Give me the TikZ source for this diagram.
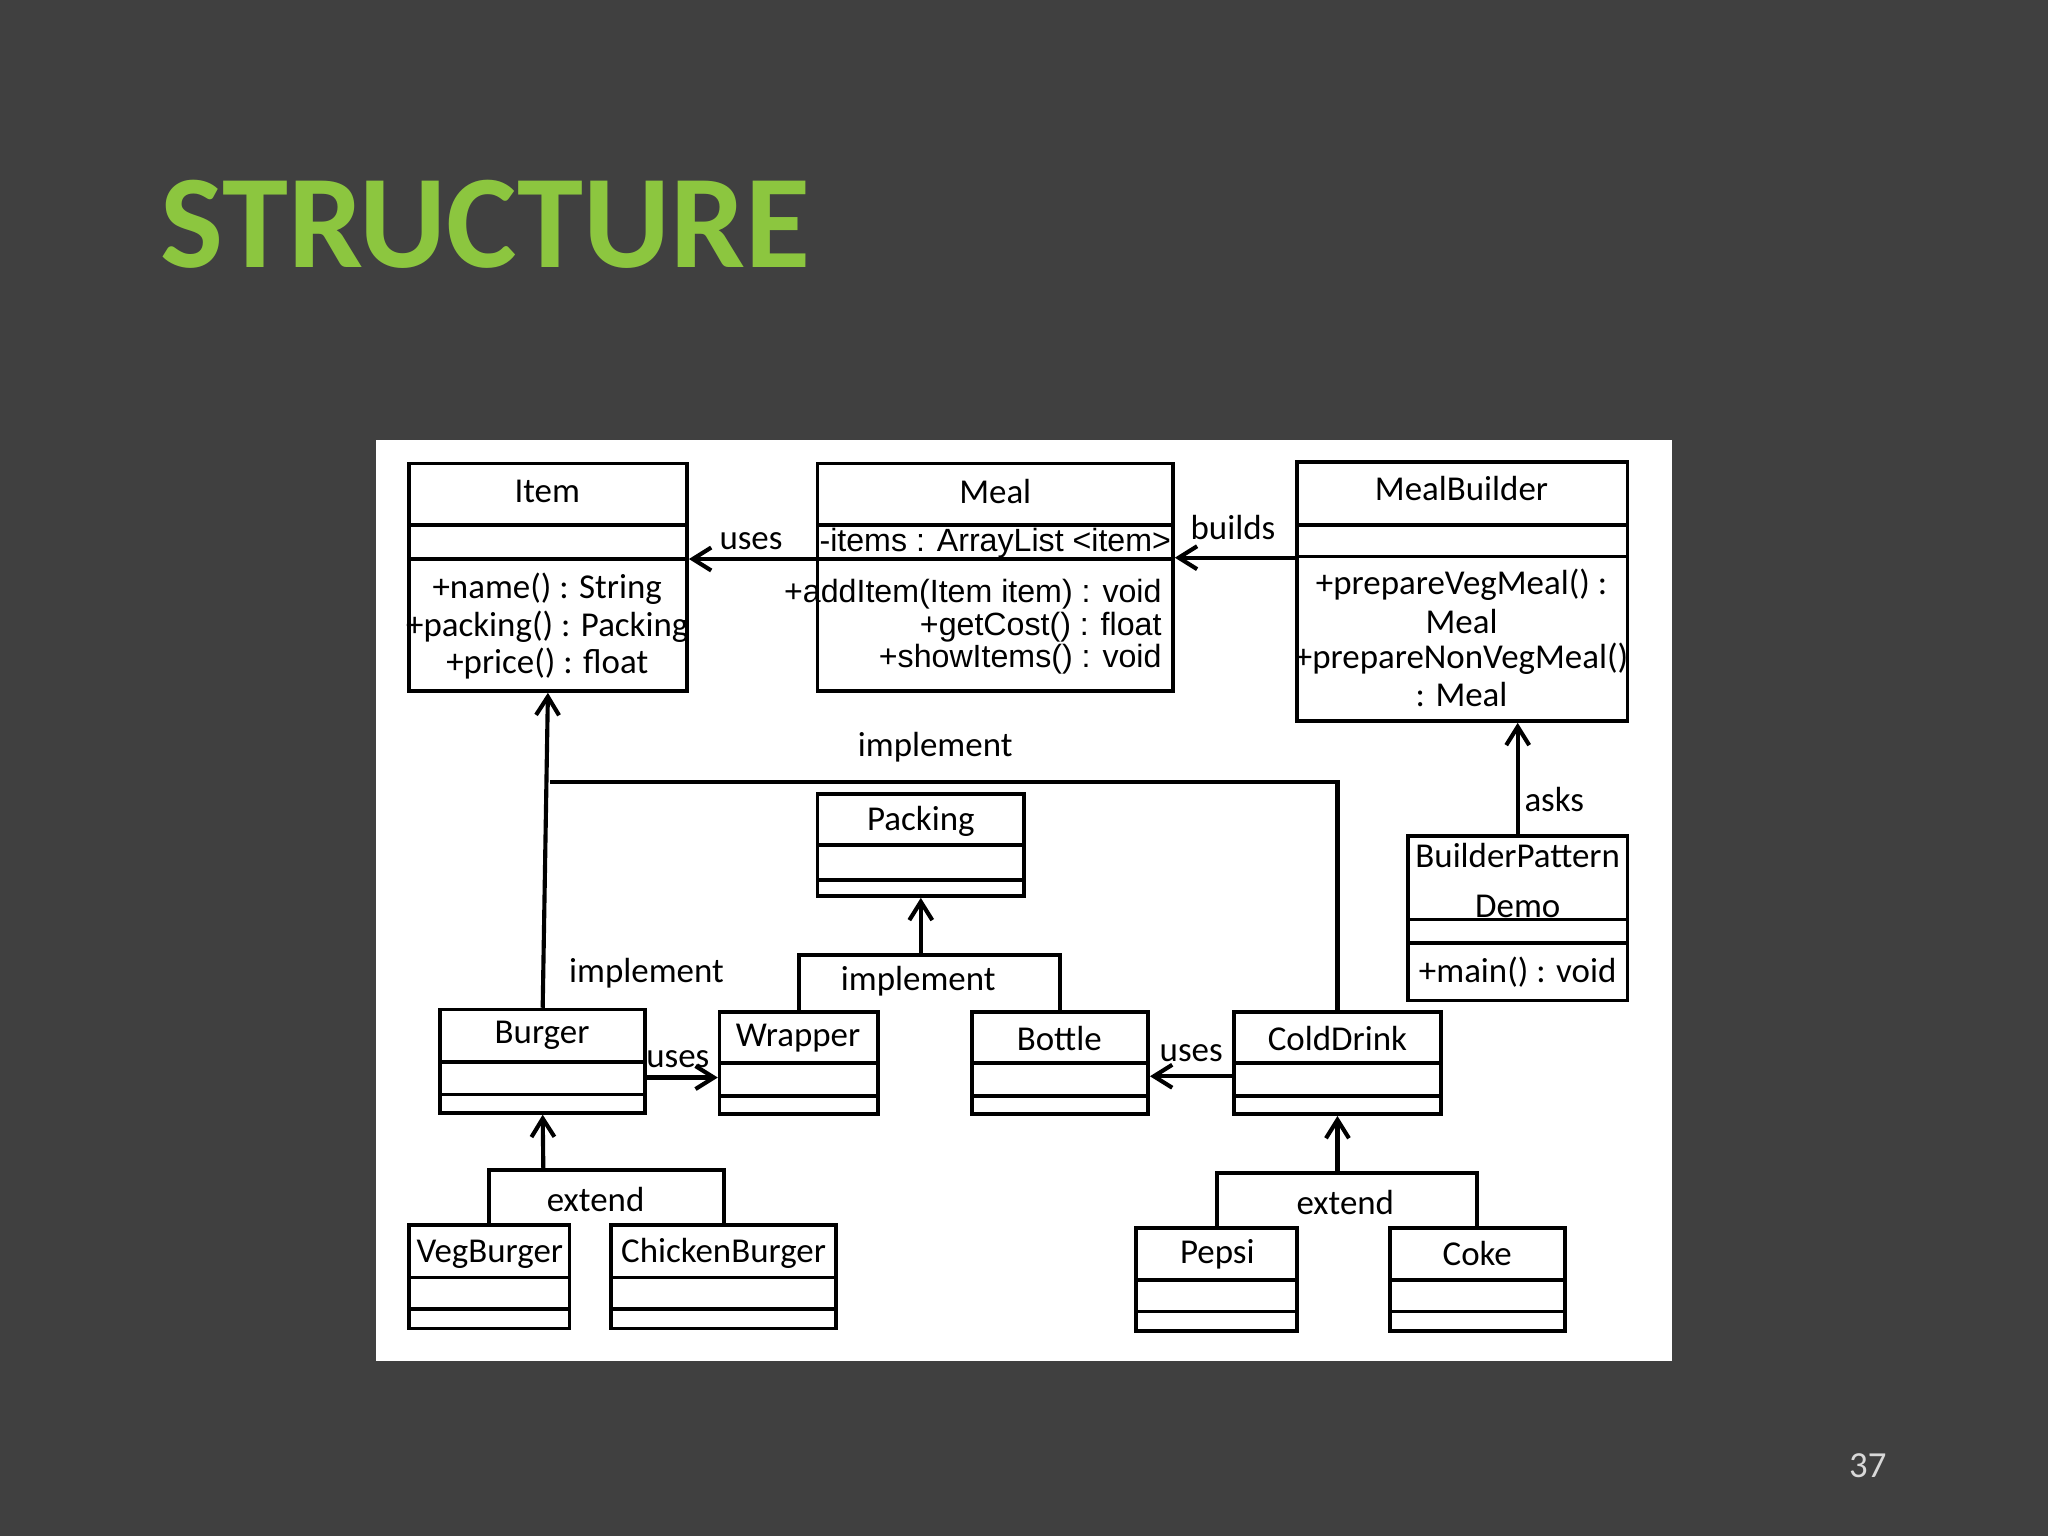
\documentclass[tikz,border=0pt]{standalone}
\usepackage{fontspec}
\setmainfont{Carlito}
\newfontfamily\arialfont{Liberation Sans}
\usetikzlibrary{positioning,arrows.meta,calc}
\definecolor{slidebg}{HTML}{404040}
\definecolor{titlegreen}{HTML}{8CC63F}
\tikzset{
  cls/.style={draw, line width=0.8pt, inner sep=0pt, fill=white},
  sep/.style={line width=0.8pt},
  uml/.style={line width=0.9pt, -{Straight Barb[length=4pt,width=5pt]}},
  link/.style={line width=0.9pt},
  txt/.style={inner sep=0pt, font=\fontsize{7.6}{9}\selectfont},
  mtxt/.style={inner sep=0pt, font=\arialfont\fontsize{7}{8}\selectfont}
}
\begin{document}
\begin{tikzpicture}[x=0.01cm, y=-0.01cm]
\fill[slidebg] (0,0) rectangle (1568,1176);
\useasboundingbox (0,0) rectangle (1568,1176);
\node[anchor=west, text=titlegreen, font=\bfseries\fontsize{29}{32}\selectfont, inner sep=0pt] (title) at (122,172) {STRUCTURE};
\node[text=white!85!black, font=\rmfamily\fontsize{8}{9}\selectfont, inner sep=0pt] (pagenum) at (1430,1122) {37};
\fill[white] (288,337) rectangle (1280,1042);

% class boxes
\node (item) [cls, minimum width=2.13cm, minimum height=1.74cm] at (419.5,442) {};
\node (meal) [cls, minimum width=2.72cm, minimum height=1.74cm] at (762,442) {};
\node (builder) [cls, minimum width=2.53cm, minimum height=1.98cm] at (1119.5,453) {};
\node (packing) [cls, minimum width=1.58cm, minimum height=0.78cm] at (705,647) {};
\node (demo) [cls, minimum width=1.68cm, minimum height=1.26cm] at (1162,703) {};
\node (burger) [cls, minimum width=1.57cm, minimum height=0.79cm] at (415.5,812.5) {};
\node (wrapper) [cls, minimum width=1.21cm, minimum height=0.78cm] at (611.5,814) {};
\node (bottle) [cls, minimum width=1.35cm, minimum height=0.78cm] at (811.5,814) {};
\node (colddrink) [cls, minimum width=1.58cm, minimum height=0.78cm] at (1024,814) {};
\node (vegburger) [cls, minimum width=1.23cm, minimum height=0.79cm] at (374.5,977.5) {};
\node (chicken) [cls, minimum width=1.72cm, minimum height=0.79cm] at (554,977.5) {};
\node (pepsi) [cls, minimum width=1.23cm, minimum height=0.79cm] at (931.5,979.5) {};
\node (coke) [cls, minimum width=1.34cm, minimum height=0.79cm] at (1131,979.5) {};

% compartments
\foreach \a/\b/\c/\d in {313/526/402/428, 626/898/402/428, 993/1246/402/426,
  626/784/647/674, 1078/1246/704/722, 337/494/813/838, 551/672/814/839,
  744/879/814/839, 945/1103/814/839, 313/436/978/1002, 468/640/978/1002,
  870/993/980/1004, 1064/1198/980/1004}
{
  \draw[sep] (\a,\c) -- (\b,\c);
  \draw[sep] (\a,\d) -- (\b,\d);
}

% class texts
\node[txt] at (419,376) {Item};
\node[txt] at (762,376) {Meal};
\node[txt] at (1119,374) {MealBuilder};
\node[txt] at (705,629) {Packing};
\node[txt, align=center] at (1162,674) {BuilderPattern\\[2pt]Demo};
\node[txt] at (415,793) {Burger};
\node[txt] at (611,795) {Wrapper};
\node[txt] at (811,795) {Bottle};
\node[txt] at (1024,795) {ColdDrink};
\node[txt] at (375,960) {VegBurger};
\node[txt] at (554,960) {ChickenBurger};
\node[txt] at (932,960) {Pepsi};
\node[txt] at (1131,960) {Coke};

\node[txt] at (419,451) {+name() : String};
\node[txt] at (419,480) {+packing() : Packing};
\node[txt] at (419,508) {+price() : float};
\node[mtxt] at (762,416) {-items : ArrayList <item>};
\node[mtxt, anchor=east] at (890,455) {+addItem(Item item) : void};
\node[mtxt, anchor=east] at (890,480) {+getCost() : float};
\node[mtxt, anchor=east] at (890,505) {+showItems() : void};
\node[txt] at (1119,448) {+prepareVegMeal() :};
\node[txt] at (1119,476) {Meal};
\node[txt] at (1119,504) {+prepareNonVegMeal()};
\node[txt] at (1119,532) {: Meal};
\node[txt] at (1162,744) {+main() : void};

% connectors
\draw[uml] (meal.west|-0,428) -- (item.east|-0,428);
\node[txt] at (575,414) {uses};
\draw[uml] (builder.west|-0,427) -- (meal.east|-0,427);
\node[txt] at (944,404) {builds};
\draw[uml] (demo.north) -- (builder.south-|demo.north);
\node[txt] at (1190,612) {asks};

\coordinate (impl) at (421,599);
\draw[uml] (burger.north) -- (item.south);
\draw[link] (impl) -- (impl-|colddrink.north) -- (colddrink.north);
\node[txt] at (716,572) {implement};
\node[txt] at (495,745) {implement};

\coordinate (pack) at (705,731);
\draw[link] (wrapper.north) -- (wrapper.north|-pack) -- (bottle.north|-pack) -- (bottle.north);
\draw[uml] (pack) -- (packing.south);
\node[txt] at (703,751) {implement};

\draw[uml] (burger.east|-0,825) -- (wrapper.west|-0,825);
\node[txt] at (519,811) {uses};
\draw[uml] (colddrink.west|-0,824) -- (bottle.east|-0,824);
\node[txt] at (912,806) {uses};

\coordinate (ext1) at (416,896);
\draw[link] (vegburger.north) -- (vegburger.north|-ext1) -- (chicken.north|-ext1) -- (chicken.north);
\draw[uml] (ext1) -- (burger.south);
\node[txt] at (456,918) {extend};

\coordinate (ext2) at (1024,898);
\draw[link] (pepsi.north) -- (pepsi.north|-ext2) -- (coke.north|-ext2) -- (coke.north);
\draw[uml] (ext2) -- (colddrink.south);
\node[txt] at (1030,921) {extend};
\end{tikzpicture}
\end{document}
